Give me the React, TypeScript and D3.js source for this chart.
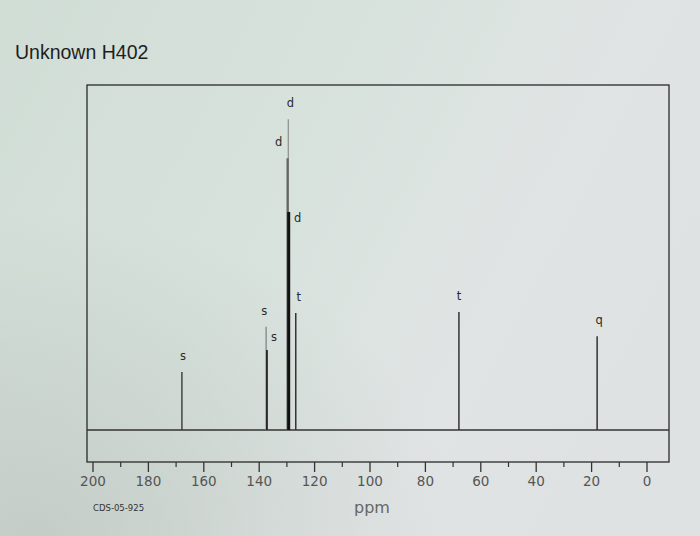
import React from "react";
import * as d3 from "d3";

// ---- data ----
const peakPpm = [167.9, 137.5, 137.2, 129.5, 129.75, 129.35, 126.8, 67.9, 18.0];
const peakIntensity = [16.8, 29.9, 23.2, 90.1, 78.8, 63.2, 33.9, 34.2, 27.2];
const peakMultiplicity = ["s", "s", "s", "d", "d", "d", "t", "t", "q"];
const majorTicks = [200, 180, 160, 140, 120, 100, 80, 60, 40, 20, 0];
const minorTicks = [190, 170, 150, 130, 110, 90, 70, 50, 30, 10];
const titleText = "Unknown H402";
const axisLabel = "ppm";
const codeText = "CDS-05-925";

// ---- layout / style ----
const W = 700;
const H = 536;
const frame = { left: 87, right: 669, top: 85, bottom: 462 };
const baselineY = 430;
// label offsets [dx, dy] relative to default position above the peak
const labelOffsets: [number, number][] = [
  [1, 0], [-2, 0], [7, 3], [2, 0], [-9, 0], [9, 22], [3, 0], [0, 0], [2, 0],
];
const lineStyles = [
  { c: "#3a3a3a", w: 1.4 },
  { c: "#8a8a8a", w: 1.4 },
  { c: "#222", w: 1.8 },
  { c: "#8c8c8c", w: 1.2 },
  { c: "#666", w: 2.2 },
  { c: "#111", w: 3 },
  { c: "#333", w: 1.5 },
  { c: "#333", w: 1.5 },
  { c: "#333", w: 1.5 },
];

export default function App() {
  const x = d3.scaleLinear().domain([200, 0]).range([93, 647]);
  const y = d3.scaleLinear().domain([0, 100]).range([baselineY, frame.top]);

  const order = d3.range(peakPpm.length);
  return (
    <svg
      width={W}
      height={H}
      viewBox={`0 0 ${W} ${H}`}
      style={{ position: "absolute", left: 0, top: 0, display: "block" }}
      fontFamily="'Liberation Sans', Arial, sans-serif"
    >
      <defs>
        <linearGradient id="bg" x1="0" y1="0" x2="1" y2="0.4">
          <stop offset="0" stopColor="#d0ddd5" />
          <stop offset="0.45" stopColor="#d7e2dc" />
          <stop offset="0.8" stopColor="#e0e4e4" />
          <stop offset="1" stopColor="#dee2e3" />
        </linearGradient>
        <radialGradient id="shade" cx="0.05" cy="1" r="0.6">
          <stop offset="0" stopColor="#b9bfbb" stopOpacity="0.6" />
          <stop offset="1" stopColor="#b9bfbb" stopOpacity="0" />
        </radialGradient>
      </defs>
      <rect x={0} y={0} width={W} height={H} fill="url(#bg)" />
      <rect x={0} y={0} width={W} height={H} fill="url(#shade)" />

      <text x={15} y={59} fontSize={19.5} fill="#1e1e1e">
        {titleText}
      </text>

      {/* frame */}
      <rect
        x={frame.left}
        y={frame.top}
        width={frame.right - frame.left}
        height={frame.bottom - frame.top}
        fill="none"
        stroke="#2a2a2a"
        strokeWidth={1.3}
      />
      {/* baseline */}
      <line x1={frame.left} x2={frame.right} y1={baselineY} y2={baselineY} stroke="#333" strokeWidth={1.3} />

      {/* peaks */}
      {order.map((i) => (
        <line
          key={"p" + i}
          x1={x(peakPpm[i])}
          x2={x(peakPpm[i])}
          y1={baselineY}
          y2={y(peakIntensity[i])}
          stroke={lineStyles[i].c}
          strokeWidth={lineStyles[i].w}
        />
      ))}
      {order.map((i) => (
        <text
          key={"l" + i}
          x={x(peakPpm[i]) + labelOffsets[i][0]}
          y={y(peakIntensity[i]) - 12 + labelOffsets[i][1]}
          fontSize={11.5}
          textAnchor="middle"
          fill="#2a2a2a"
          fontFamily="'DejaVu Sans', sans-serif"
        >
          {peakMultiplicity[i]}
        </text>
      ))}

      {/* axis ticks */}
      {majorTicks.map((t) => (
        <g key={"M" + t}>
          <line x1={x(t)} x2={x(t)} y1={frame.bottom} y2={frame.bottom + 10} stroke="#333" strokeWidth={1.3} />
          <text
            x={x(t)}
            y={486}
            fontSize={13.5}
            textAnchor="middle"
            fill="#555"
            fontFamily="'DejaVu Sans', sans-serif"
          >
            {t}
          </text>
        </g>
      ))}
      {minorTicks.map((t) => (
        <line key={"m" + t} x1={x(t)} x2={x(t)} y1={frame.bottom} y2={frame.bottom + 5} stroke="#333" strokeWidth={1.2} />
      ))}
      <text x={372} y={513} fontSize={16} textAnchor="middle" fill="#666" fontFamily="'DejaVu Sans', sans-serif">
        {axisLabel}
      </text>
      <text x={93} y={511} fontSize={8.5} fill="#333" fontFamily="'DejaVu Sans', sans-serif">
        {codeText}
      </text>
    </svg>
  );
}
